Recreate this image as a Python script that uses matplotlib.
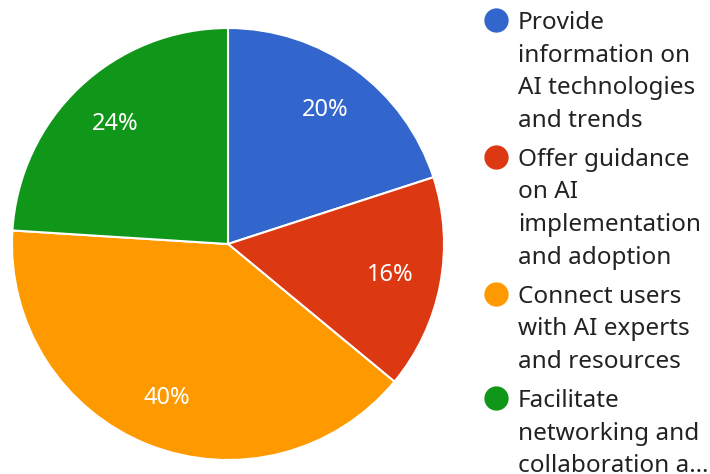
import matplotlib
matplotlib.use("Agg")
import matplotlib.pyplot as plt

plt.rcParams['font.family'] = ['Noto Sans', 'DejaVu Sans']

labels = [
    "Provide\ninformation on\nAI technologies\nand trends",
    "Offer guidance\non AI\nimplementation\nand adoption",
    "Connect users\nwith AI experts\nand resources",
    "Facilitate\nnetworking and\ncollaboration a\u2026",
]
shares = [20, 16, 40, 24]
colors = ["#3366cc", "#dc3912", "#ff9900", "#109618"]

W, H = 710, 474
fig = plt.figure(figsize=(W / 100, H / 100), dpi=100)

# pie: center (228, 244) px, radius 216 px
cx, cy, r = 228, 244, 216
ax = fig.add_axes([(cx - r) / W, (H - cy - r) / H, 2 * r / W, 2 * r / H])
wedges, _, autotexts = ax.pie(
    shares, colors=colors, startangle=90, counterclock=False,
    autopct=lambda p: f"{p:.0f}%", pctdistance=0.765, radius=1,
    wedgeprops=dict(edgecolor="white", linewidth=1.5),
    textprops=dict(color="white", fontsize=17),
)
ax.set_xlim(-1, 1)
ax.set_ylim(-1, 1)
ax.set_aspect("equal")

# legend drawn in pixel coordinates
lg = fig.add_axes([0, 0, 1, 1])
lg.set_xlim(0, W)
lg.set_ylim(H, 0)
lg.axis("off")
line_h = 32.6
gap = 6.5
base = 29
for lab, col in zip(labels, colors):
    lg.plot(496, base - 8.7, "o", ms=17.5, color=col, mec="none")
    for i, line in enumerate(lab.split("\n")):
        lg.text(518, base + i * line_h, line, fontsize=17.5, color="#222222",
                va="baseline", ha="left")
    base += (lab.count("\n") + 1) * line_h + gap

fig.savefig("out.png", dpi=100)
